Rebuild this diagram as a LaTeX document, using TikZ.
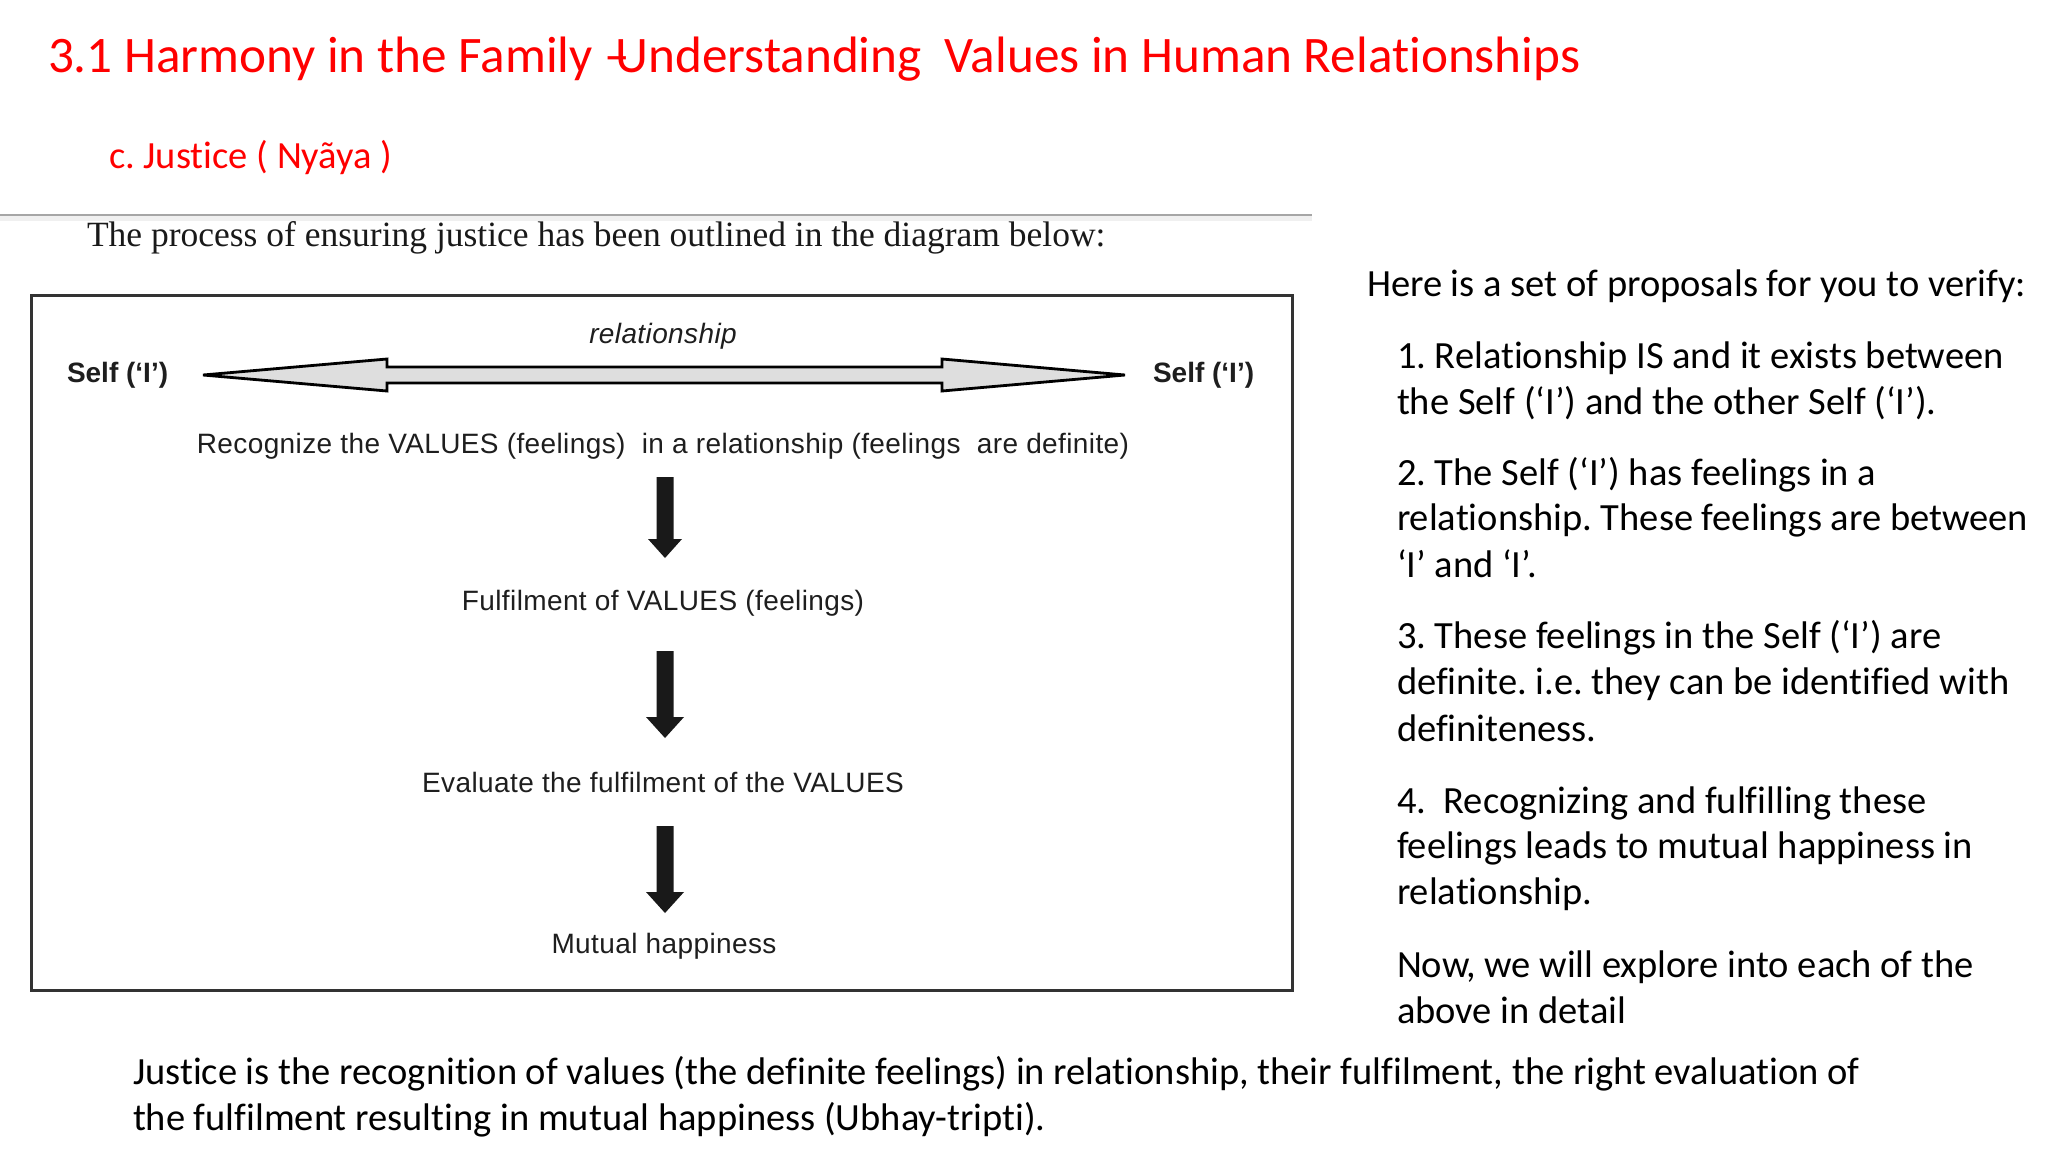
\documentclass[tikz,border=0pt]{standalone}
\usepackage{fontspec}
\setmainfont{Carlito}[Ligatures=CommonOff]
\newfontfamily\diagfont{Liberation Sans}[Ligatures=CommonOff,LetterSpace=1.4]
\newfontfamily\diagbold{Liberation Sans Bold}[Ligatures=CommonOff]
\newfontfamily\serfont{Liberation Serif}
\definecolor{slidered}{RGB}{255,0,0}
\definecolor{diagtext}{RGB}{30,30,30}
\definecolor{arrowfill}{RGB}{222,222,222}
\frenchspacing
\begin{document}
\begin{tikzpicture}[x=0.5pt,y=-0.5pt,
  txt/.style={inner sep=0pt,outer sep=0pt,anchor=base west},
  slidetxt/.style={txt,font=\frenchspacing\fontsize{19.25}{23}\selectfont,text=black},
  dtxt/.style={inner sep=0pt,outer sep=0pt,anchor=base,font=\diagfont\fontsize{14}{17}\selectfont,text=diagtext},
  blockarrow/.style={fill=black!90,draw=none}]
\useasboundingbox (0,0) rectangle (2048,1152);
\fill[white] (0,0) rectangle (2048,1152);

% title and subtitle
\node[txt,font=\fontsize{25.6}{30}\selectfont,text=slidered] (title) at (48,72)
  {3.1 Harmony in the Family –\kern-0.28em Understanding\ \ Values in Human Relationships};
\node[txt,font=\frenchspacing\fontsize{19.25}{23}\selectfont,text=slidered] (sub) at (109,168) {c. Justice ( Nyãya )};

% separator line
\fill[black!6] (0,216) rectangle (1312,221);
\draw[black!35,line width=1pt] (0,215) -- (1312,215);

\node[txt,font=\serfont\fontsize{17.75}{21}\selectfont,text=black!90] (proc) at (87,246)
  {The process of ensuring justice has been outlined in the diagram below:};

% diagram frame
\draw[black!80,line width=1.5pt] (31,295) rectangle (1292,990);

% double arrow
\draw[fill=arrowfill,line width=1.4pt,line join=miter]
  (203,375) -- (387,359) -- (387,367) -- (942,367) -- (942,359) -- (1125,375)
  -- (942,391) -- (942,383) -- (387,383) -- (387,391) -- cycle;

\node[dtxt,font=\diagfont\itshape\fontsize{14}{17}\selectfont] (rel) at (663,343) {relationship};
\node[dtxt,anchor=base west,font=\diagbold\fontsize{14}{17}\selectfont] (selfL) at (67,382) {Self (‘I’)};
\node[dtxt,anchor=base west,font=\diagbold\fontsize{14}{17}\selectfont] (selfR) at (1153,382) {Self (‘I’)};

\node[dtxt] (rec) at (663,453) {Recognize the VALUES (feelings)\ \ in a relationship (feelings\ \ are definite)};
\node[dtxt] (ful) at (663,610) {Fulfilment of VALUES (feelings)};
\node[dtxt] (eva) at (663,792) {Evaluate the fulfilment of the VALUES};
\node[dtxt] (mut) at (664,953) {Mutual happiness};

% block arrows
\fill[blockarrow] (656.5,477) -- (673.5,477) -- (673.5,539) -- (682,539) -- (665,558) -- (648,539) -- (656.5,539) -- cycle;
\fill[blockarrow] (656.5,651) -- (673.5,651) -- (673.5,717) -- (684,717) -- (665,738) -- (646,717) -- (656.5,717) -- cycle;
\fill[blockarrow] (656.5,826) -- (673.5,826) -- (673.5,892) -- (684,892) -- (665,913) -- (646,892) -- (656.5,892) -- cycle;

% right column
\node[slidetxt] (r0) at (1367,296) {Here is a set of proposals for you to verify:};
\node[slidetxt] (r1) at (1397,368) {1. Relationship IS and it exists between};
\node[slidetxt] (r2) at (1397,414) {the Self (‘I’) and the other Self (‘I’).};
\node[slidetxt] (r3) at (1397,485) {2. The Self (‘I’) has feelings in a};
\node[slidetxt] (r4) at (1397,530) {relationship. These feelings are between};
\node[slidetxt] (r5) at (1397,577) {‘I’ and ‘I’.};
\node[slidetxt] (r6) at (1397,648) {3. These feelings in the Self (‘I’) are};
\node[slidetxt] (r7) at (1397,694) {definite. i.e. they can be identified with};
\node[slidetxt] (r8) at (1397,741) {definiteness.};
\node[slidetxt] (r9) at (1397,813) {4.\ \ Recognizing and fulfilling these};
\node[slidetxt] (r10) at (1397,858) {feelings leads to mutual happiness in};
\node[slidetxt] (r11) at (1397,904) {relationship.};
\node[slidetxt] (r12) at (1397,977) {Now, we will explore into each of the};
\node[slidetxt] (r13) at (1397,1023) {above in detail};

% bottom text
\node[slidetxt] (b1) at (133,1084) {Justice is the recognition of values (the definite feelings) in relationship, their fulfilment, the right evaluation of};
\node[slidetxt] (b2) at (133,1130) {the fulfilment resulting in mutual happiness (Ubhay-tripti).};
\end{tikzpicture}
\end{document}
